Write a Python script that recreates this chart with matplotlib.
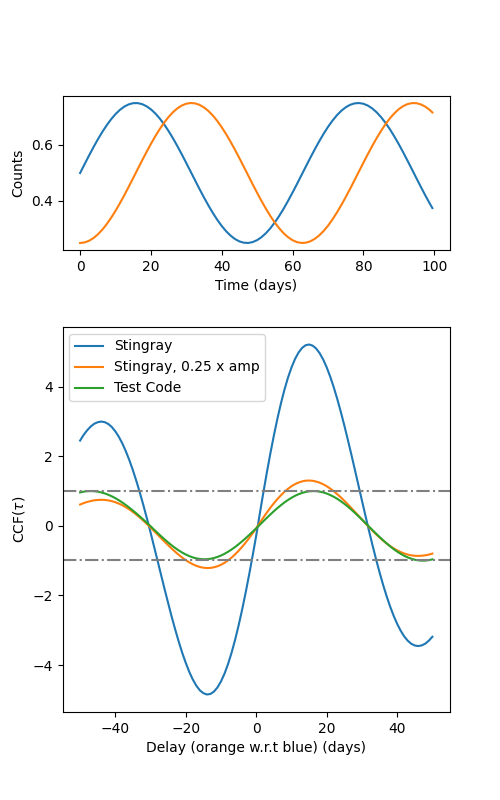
import matplotlib.pyplot as plt

# ---- light curves (top panel) ----
time_days = [0, 1.25, 2.5, 3.75, 5, 6.25, 7.5, 8.75, 10, 11.25, 12.5, 13.75, 15,
             16.25, 17.5, 18.75, 20, 21.25, 22.5, 23.75, 25, 26.25, 27.5, 28.75,
             30, 31.25, 32.5, 33.75, 35, 36.25, 37.5, 38.75, 40, 41.25, 42.5,
             43.75, 45, 46.25, 47.5, 48.75, 50, 51.25, 52.5, 53.75, 55, 56.25,
             57.5, 58.75, 60, 61.25, 62.5, 63.75, 65, 66.25, 67.5, 68.75, 70,
             71.25, 72.5, 73.75, 75, 76.25, 77.5, 78.75, 80, 81.25, 82.5, 83.75,
             85, 86.25, 87.5, 88.75, 90, 91.25, 92.5, 93.75, 95, 96.25, 97.5,
             98.75, 99.5]
counts_blue = [0.5000, 0.5312, 0.5619, 0.5916, 0.6199, 0.6463, 0.6704, 0.6919,
               0.7104, 0.7256, 0.7373, 0.7452, 0.7494, 0.7496, 0.7460, 0.7385,
               0.7273, 0.7126, 0.6945, 0.6734, 0.6496, 0.6235, 0.5954, 0.5659,
               0.5353, 0.5042, 0.4730, 0.4422, 0.4123, 0.3838, 0.3571, 0.3327,
               0.3108, 0.2919, 0.2763, 0.2641, 0.2556, 0.2510, 0.2502, 0.2533,
               0.2603, 0.2710, 0.2853, 0.3029, 0.3236, 0.3471, 0.3729, 0.4008,
               0.4302, 0.4606, 0.4917, 0.5229, 0.5538, 0.5838, 0.6125, 0.6395,
               0.6643, 0.6865, 0.7058, 0.7219, 0.7345, 0.7435, 0.7486, 0.7499,
               0.7474, 0.7409, 0.7307, 0.7169, 0.6996, 0.6793, 0.6562, 0.6306,
               0.6030, 0.5738, 0.5435, 0.5124, 0.4812, 0.4503, 0.4201, 0.3912,
               0.3747]
counts_orange = [0.2500, 0.2520, 0.2578, 0.2674, 0.2806, 0.2973, 0.3171, 0.3398,
                 0.3649, 0.3922, 0.4212, 0.4514, 0.4823, 0.5136, 0.5446, 0.5749,
                 0.6040, 0.6316, 0.6571, 0.6801, 0.7003, 0.7174, 0.7311, 0.7412,
                 0.7475, 0.7500, 0.7485, 0.7432, 0.7341, 0.7214, 0.7052, 0.6857,
                 0.6634, 0.6385, 0.6115, 0.5828, 0.5527, 0.5218, 0.4906, 0.4595,
                 0.4291, 0.3998, 0.3719, 0.3461, 0.3228, 0.3022, 0.2847, 0.2705,
                 0.2600, 0.2531, 0.2502, 0.2511, 0.2559, 0.2645, 0.2768, 0.2925,
                 0.3115, 0.3335, 0.3580, 0.3848, 0.4134, 0.4433, 0.4741, 0.5053,
                 0.5364, 0.5669, 0.5963, 0.6243, 0.6505, 0.6742, 0.6952, 0.7132,
                 0.7278, 0.7389, 0.7462, 0.7497, 0.7493, 0.7450, 0.7369, 0.7251,
                 0.7163]

# ---- cross correlation (bottom panel), one value per day of delay ----
delay = list(range(-50, 51))
ccf_stingray = [2.452, 2.614, 2.747, 2.853, 2.934, 2.979, 2.998, 2.980, 2.928,
                2.841, 2.716, 2.558, 2.366, 2.139, 1.882, 1.595, 1.279, 0.940,
                0.579, 0.199, -0.191, -0.598, -1.006, -1.417, -1.826, -2.222,
                -2.613, -2.981, -3.329, -3.652, -3.940, -4.200, -4.417, -4.594,
                -4.727, -4.808, -4.846, -4.830, -4.761, -4.642, -4.468, -4.244,
                -3.969, -3.643, -3.273, -2.858, -2.404, -1.914, -1.392, -0.842,
                -0.274, 0.345, 0.948, 1.527, 2.079, 2.596, 3.079, 3.517, 3.912,
                4.258, 4.551, 4.793, 4.980, 5.113, 5.190, 5.212, 5.180, 5.097,
                4.962, 4.781, 4.555, 4.287, 3.983, 3.645, 3.278, 2.887, 2.474,
                2.049, 1.612, 1.170, 0.730, 0.290, -0.139, -0.555, -0.956,
                -1.334, -1.690, -2.018, -2.317, -2.583, -2.815, -3.014, -3.176,
                -3.300, -3.388, -3.438, -3.454, -3.434, -3.383, -3.299, -3.186]
ccf_stingray_quarter = [0.613, 0.654, 0.687, 0.713, 0.734, 0.745, 0.750, 0.745,
                        0.732, 0.710, 0.679, 0.640, 0.592, 0.535, 0.471, 0.399,
                        0.320, 0.235, 0.145, 0.050, -0.048, -0.150, -0.252,
                        -0.354, -0.457, -0.556, -0.653, -0.745, -0.832, -0.913,
                        -0.985, -1.050, -1.104, -1.149, -1.182, -1.202, -1.212,
                        -1.208, -1.190, -1.161, -1.117, -1.061, -0.992, -0.911,
                        -0.818, -0.715, -0.601, -0.479, -0.348, -0.211, -0.068,
                        0.086, 0.237, 0.382, 0.520, 0.649, 0.770, 0.879, 0.978,
                        1.065, 1.138, 1.198, 1.245, 1.278, 1.298, 1.303, 1.295,
                        1.274, 1.241, 1.195, 1.139, 1.072, 0.996, 0.911, 0.820,
                        0.722, 0.619, 0.512, 0.403, 0.293, 0.183, 0.073, -0.035,
                        -0.139, -0.239, -0.334, -0.423, -0.505, -0.579, -0.646,
                        -0.704, -0.754, -0.794, -0.825, -0.847, -0.860, -0.864,
                        -0.859, -0.846, -0.825, -0.797]
ccf_test = [0.961, 0.983, 0.996, 1.000, 0.996, 0.983, 0.961, 0.932, 0.894, 0.849,
            0.796, 0.736, 0.670, 0.598, 0.521, 0.440, 0.355, 0.266, 0.176, 0.084,
            -0.010, -0.108, -0.204, -0.299, -0.390, -0.477, -0.560, -0.636,
            -0.706, -0.769, -0.823, -0.869, -0.906, -0.934, -0.952, -0.960,
            -0.958, -0.946, -0.924, -0.892, -0.852, -0.802, -0.744, -0.679,
            -0.606, -0.527, -0.443, -0.354, -0.261, -0.166, -0.069, 0.030, 0.131,
            0.230, 0.327, 0.421, 0.510, 0.594, 0.673, 0.744, 0.807, 0.863, 0.909,
            0.946, 0.974, 0.992, 1.000, 0.997, 0.984, 0.962, 0.929, 0.887, 0.836,
            0.777, 0.709, 0.634, 0.553, 0.466, 0.374, 0.278, 0.181, 0.081,
            -0.020, -0.121, -0.221, -0.319, -0.413, -0.503, -0.588, -0.667,
            -0.739, -0.803, -0.859, -0.906, -0.945, -0.973, -0.991, -1.000,
            -0.998, -0.985, -0.963]
level_lines = [1.0, -0.97]

fig = plt.figure(figsize=(5, 8), dpi=100)
ax1 = fig.add_axes([0.125, 0.6875, 0.775, 0.1925])
ax2 = fig.add_axes([0.125, 0.11, 0.775, 0.48125])

# top: the two light curves
ax1.plot(time_days, counts_blue)
ax1.plot(time_days, counts_orange)
ax1.set_yticks([0.4, 0.6])
ax1.set_xlabel('Time (days)')
ax1.set_ylabel('Counts')

# bottom: CCF comparison
ax2.plot(delay, ccf_stingray, label='Stingray')
ax2.plot(delay, ccf_stingray_quarter, label='Stingray, 0.25 x amp')
ax2.plot(delay, ccf_test, label='Test Code')
for lvl in level_lines:
    ax2.axhline(lvl, color='gray', linestyle='-.')
ax2.set_xlabel('Delay (orange w.r.t blue) (days)')
ax2.set_ylabel(r'CCF($\tau$)')
ax2.legend(loc='upper left')

fig.savefig('out.png', dpi=100)
plt.close(fig)
